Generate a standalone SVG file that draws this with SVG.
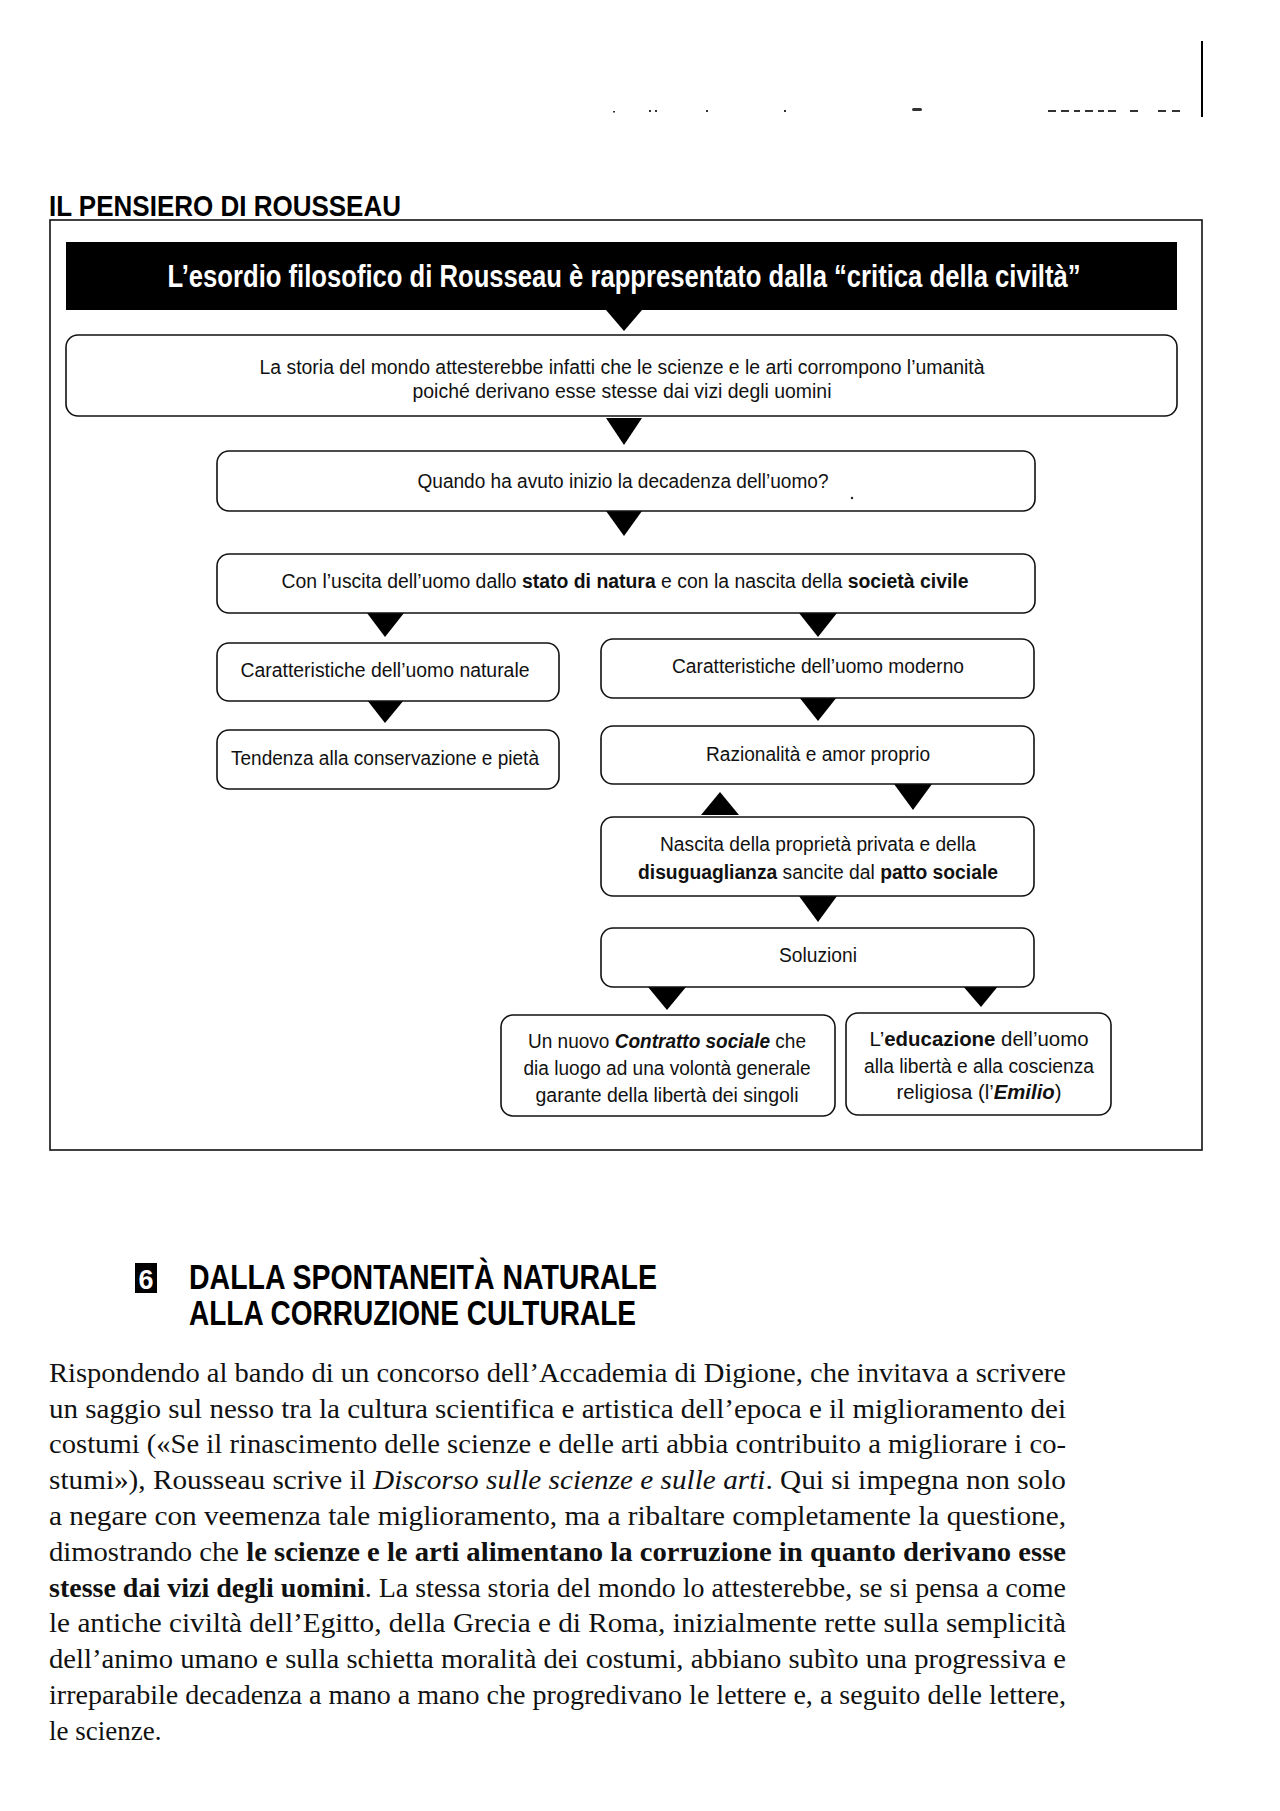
<svg xmlns="http://www.w3.org/2000/svg" width="1280" height="1811" viewBox="0 0 1280 1811">
<style>
.box{fill:#fff;stroke:#111;stroke-width:1.6}
.tri{fill:#000}
.t{font-family:"Liberation Sans",Arial,sans-serif;font-size:20px;fill:#111;text-anchor:middle}
.b{font-weight:bold}
.p{font-family:"Liberation Serif","Times New Roman",serif;font-size:27px;fill:#111}
.h{font-family:"Liberation Sans",Arial,sans-serif;font-weight:bold;fill:#000}
</style>
<rect width="1280" height="1811" fill="#fff"/>
<!-- page header marks -->
<line x1="1202" y1="41" x2="1202" y2="117" stroke="#000" stroke-width="2"/>
<g fill="#333">
<rect x="613" y="111" width="2" height="1.5"/><rect x="649" y="110" width="2" height="2"/><rect x="655" y="110" width="2" height="2"/><rect x="706" y="110" width="2" height="2"/>
<rect x="784" y="110" width="2" height="2"/><rect x="912" y="108" width="10" height="3" rx="1.5"/>
<rect x="1048" y="110" width="8" height="2"/><rect x="1061" y="110" width="8" height="2"/><rect x="1074" y="110" width="6" height="2"/><rect x="1085" y="110" width="8" height="2"/><rect x="1098" y="110" width="6" height="2"/><rect x="1108" y="110" width="8" height="2"/><rect x="1130" y="110" width="8" height="2"/><rect x="1158" y="110" width="8" height="2"/><rect x="1172" y="110" width="8" height="2"/>
</g>
<!-- title & frame -->
<text class="h" x="49" y="216" font-size="30" textLength="352" lengthAdjust="spacingAndGlyphs">IL PENSIERO DI ROUSSEAU</text>
<rect x="50" y="220" width="1152" height="930" fill="none" stroke="#111" stroke-width="1.6"/>
<!-- banner -->
<g id="banner">
<rect x="66" y="242" width="1111" height="68" fill="#000"/>
<text class="h" x="624" y="287" font-size="31" text-anchor="middle" style="fill:#fff" textLength="913" lengthAdjust="spacingAndGlyphs">L’esordio filosofico di Rousseau è rappresentato dalla “critica della civiltà”</text>
</g>
<g id="connectors">
<polygon class="tri" points="606,310 642,310 624,331"/>
<polygon class="tri" points="606,418 642,418 624,445"/>
<polygon class="tri" points="606,511 642,511 624,536"/>
<polygon class="tri" points="367,613 404,613 385,637"/>
<polygon class="tri" points="799,613 837,613 818,637"/>
<polygon class="tri" points="367,700 404,700 385,723"/>
<polygon class="tri" points="799,697 837,697 818,721"/>
<polygon class="tri" points="701,815 739,815 720,792"/>
<polygon class="tri" points="894,784 932,784 913,810"/>
<polygon class="tri" points="799,896 837,896 818,922"/>
<polygon class="tri" points="648,987 686,987 667,1010"/>
<polygon class="tri" points="962,985 999,985 981,1007"/>
</g>
<g id="n1">
<rect class="box" x="66" y="335" width="1111" height="81" rx="12"/>
<text class="t" x="622" y="374" textLength="725" lengthAdjust="spacingAndGlyphs">La storia del mondo attesterebbe infatti che le scienze e le arti corrompono l’umanità</text>
<text class="t" x="622" y="398" textLength="419" lengthAdjust="spacingAndGlyphs">poiché derivano esse stesse dai vizi degli uomini</text>
</g>
<g id="n2">
<rect class="box" x="217" y="451" width="818" height="60" rx="12"/>
<text class="t" x="623" y="488" textLength="411" lengthAdjust="spacingAndGlyphs">Quando ha avuto inizio la decadenza dell’uomo?</text>
<circle cx="852" cy="498" r="1.2" fill="#222"/>
</g>
<g id="n3">
<rect class="box" x="217" y="554" width="818" height="59" rx="12"/>
<text class="t" x="625" y="588" textLength="687" lengthAdjust="spacingAndGlyphs">Con l’uscita dell’uomo dallo <tspan class="b">stato di natura</tspan> e con la nascita della <tspan class="b">società civile</tspan></text>
</g>
<g id="n4">
<rect class="box" x="217" y="643" width="342" height="58" rx="12"/>
<text class="t" x="385" y="677" textLength="289" lengthAdjust="spacingAndGlyphs">Caratteristiche dell’uomo naturale</text>
</g>
<g id="n5">
<rect class="box" x="601" y="639" width="433" height="59" rx="12"/>
<text class="t" x="818" y="673" textLength="292" lengthAdjust="spacingAndGlyphs">Caratteristiche dell’uomo moderno</text>
</g>
<g id="n6">
<rect class="box" x="217" y="730" width="342" height="59" rx="12"/>
<text class="t" x="385" y="765" textLength="308" lengthAdjust="spacingAndGlyphs">Tendenza alla conservazione e pietà</text>
</g>
<g id="n7">
<rect class="box" x="601" y="726" width="433" height="58" rx="12"/>
<text class="t" x="818" y="761" textLength="224" lengthAdjust="spacingAndGlyphs">Razionalità e amor proprio</text>
</g>
<g id="n8">
<rect class="box" x="601" y="817" width="433" height="79" rx="12"/>
<text class="t" x="818" y="851" textLength="316" lengthAdjust="spacingAndGlyphs">Nascita della proprietà privata e della</text>
<text class="t" x="818" y="879" textLength="360" lengthAdjust="spacingAndGlyphs"><tspan class="b">disuguaglianza</tspan> sancite dal <tspan class="b">patto sociale</tspan></text>
</g>
<g id="n9">
<rect class="box" x="601" y="928" width="433" height="59" rx="12"/>
<text class="t" x="818" y="962" textLength="78" lengthAdjust="spacingAndGlyphs">Soluzioni</text>
</g>
<g id="n10">
<rect class="box" x="501" y="1015" width="334" height="101" rx="12"/>
<text class="t" x="667" y="1048" textLength="278" lengthAdjust="spacingAndGlyphs">Un nuovo <tspan class="b" font-style="italic">Contratto sociale</tspan> che</text>
<text class="t" x="667" y="1075" textLength="287" lengthAdjust="spacingAndGlyphs">dia luogo ad una volontà generale</text>
<text class="t" x="667" y="1102" textLength="263" lengthAdjust="spacingAndGlyphs">garante della libertà dei singoli</text>
</g>
<g id="n11">
<rect class="box" x="846" y="1013" width="265" height="102" rx="12"/>
<text class="t" x="979" y="1046" textLength="219" lengthAdjust="spacingAndGlyphs">L’<tspan class="b">educazione</tspan> dell’uomo</text>
<text class="t" x="979" y="1073" textLength="230" lengthAdjust="spacingAndGlyphs">alla libertà e alla coscienza</text>
<text class="t" x="979" y="1099" textLength="165" lengthAdjust="spacingAndGlyphs">religiosa (l’<tspan class="b" font-style="italic">Emilio</tspan>)</text>
</g>
<!-- section heading -->
<rect x="135" y="1263" width="22" height="30" fill="#000"/>
<text class="h" x="146" y="1289" font-size="28" text-anchor="middle" style="fill:#fff" textLength="15" lengthAdjust="spacingAndGlyphs">6</text>
<text class="h" x="189" y="1289" font-size="35" textLength="468" lengthAdjust="spacingAndGlyphs">DALLA SPONTANEITÀ NATURALE</text>
<text class="h" x="189" y="1325" font-size="35" textLength="447" lengthAdjust="spacingAndGlyphs">ALLA CORRUZIONE CULTURALE</text>
<!-- paragraph -->
<g class="p">
<text x="49" y="1382" textLength="1017" lengthAdjust="spacingAndGlyphs">Rispondendo al bando di un concorso dell’Accademia di Digione, che invitava a scrivere</text>
<text x="49" y="1418" textLength="1017" lengthAdjust="spacingAndGlyphs">un saggio sul nesso tra la cultura scientifica e artistica dell’epoca e il miglioramento dei</text>
<text x="49" y="1453" textLength="1017" lengthAdjust="spacingAndGlyphs">costumi («Se il rinascimento delle scienze e delle arti abbia contribuito a migliorare i co-</text>
<text x="49" y="1489" textLength="1017" lengthAdjust="spacingAndGlyphs">stumi»), Rousseau scrive il <tspan font-style="italic">Discorso sulle scienze e sulle arti</tspan>. Qui si impegna non solo</text>
<text x="49" y="1525" textLength="1017" lengthAdjust="spacingAndGlyphs">a negare con veemenza tale miglioramento, ma a ribaltare completamente la questione,</text>
<text x="49" y="1561" textLength="1017" lengthAdjust="spacingAndGlyphs">dimostrando che <tspan font-weight="bold">le scienze e le arti alimentano la corruzione in quanto derivano esse</tspan></text>
<text x="49" y="1597" textLength="1017" lengthAdjust="spacingAndGlyphs"><tspan font-weight="bold">stesse dai vizi degli uomini</tspan>. La stessa storia del mondo lo attesterebbe, se si pensa a come</text>
<text x="49" y="1632" textLength="1017" lengthAdjust="spacingAndGlyphs">le antiche civiltà dell’Egitto, della Grecia e di Roma, inizialmente rette sulla semplicità</text>
<text x="49" y="1668" textLength="1017" lengthAdjust="spacingAndGlyphs">dell’animo umano e sulla schietta moralità dei costumi, abbiano subìto una progressiva e</text>
<text x="49" y="1704" textLength="1017" lengthAdjust="spacingAndGlyphs">irreparabile decadenza a mano a mano che progredivano le lettere e, a seguito delle lettere,</text>
<text x="49" y="1740">le scienze.</text>
</g>
</svg>
